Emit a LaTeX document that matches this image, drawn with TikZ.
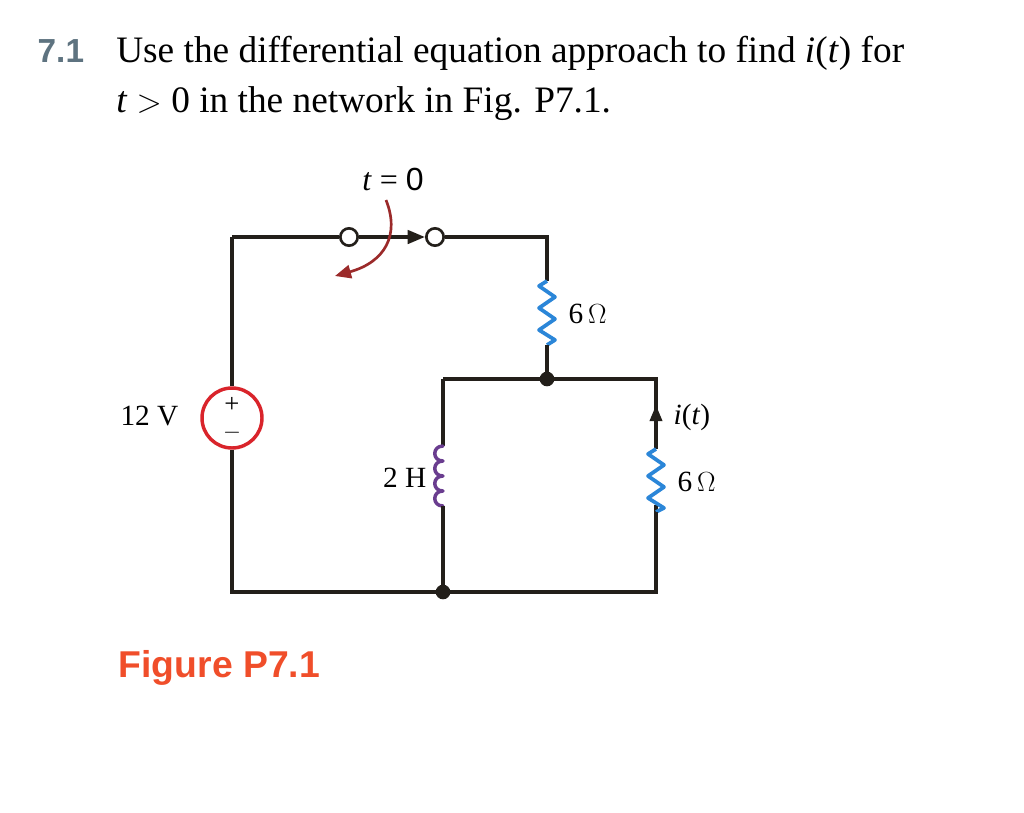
\documentclass[tikz,border=0pt]{standalone}
\usepackage{fontspec}
\setmainfont{Liberation Serif}
\newfontfamily\hsans{Liberation Sans}
\usetikzlibrary{arrows.meta}
\definecolor{wire}{HTML}{231F1A}
\definecolor{resblue}{HTML}{2B86D8}
\definecolor{indpurple}{HTML}{6A3D8F}
\definecolor{srcred}{HTML}{D9242B}
\definecolor{swred}{HTML}{9B2A2A}
\definecolor{numgray}{HTML}{5E7380}
\definecolor{figred}{HTML}{F04E2A}
\begin{document}
\begin{tikzpicture}[x=0.75pt,y=-0.75pt,
  w/.style={draw=wire,line width=2.6pt},
  res/.style={draw=resblue,line width=2.8pt,line join=round},
  ind/.style={draw=indpurple,line width=2.6pt,line join=round,line cap=round},
  dotn/.style={circle,fill=wire,inner sep=0,minimum size=11pt},
  swc/.style={circle,draw=wire,fill=white,line width=2pt,inner sep=0,minimum size=13pt},
  lab/.style={font=\fontsize{22}{26}\selectfont,inner sep=1pt}]
\useasboundingbox (0,0) rectangle (1024,813);
% header
\node[anchor=base west,font=\hsans\bfseries\fontsize{25}{30}\selectfont,text=numgray] (num) at (33,63) {7.1};
\node[anchor=base west,font=\fontsize{28}{32}\selectfont,inner sep=0] (l1) at (116,63) {Use the differential equation approach to find \textit{i}(\textit{t}) for};
\node[anchor=base west,font=\fontsize{28}{32}\selectfont,inner sep=0] (l2) at (116,113) {\textit{t} $>$ 0 in the network in Fig. P7.1.};
\node[anchor=base west,font=\hsans\bfseries\fontsize{28}{32}\selectfont,text=figred] (fig) at (114,677) {Figure P7.1};
% coordinates
\coordinate (tl) at (232,237);
\coordinate (tr) at (547,237);
\coordinate (bl) at (232,592);
\coordinate (br) at (656,592);
\node[dotn] (ntop) at (547,379) {};
\node[dotn] (nbot) at (443,592) {};
\coordinate (ml) at (443,379);
\coordinate (mr) at (656,379);
% source
\node[circle,draw=srcred,line width=2.6pt,minimum size=45pt,inner sep=0] (src) at (232,418) {};
\node[font=\fontsize{20}{22}\selectfont,inner sep=0] (plus) at (232,405) {+};
\node[font=\fontsize{17}{20}\selectfont,inner sep=0] (minus) at (232,433) {$-$};
\node[lab,anchor=east] (vl) at (180,416) {12 V};
% switch
\node[swc] (s1) at (349,237) {};
\node[swc] (s2) at (435,237) {};
\draw[w] (tl) -- (src.north);
\draw[w] (src.south) -- (bl) -- (nbot.center) -- (br) -- (656,505);
\draw[w] (tl) -- (s1);
\draw[w,-{Triangle[length=13pt,width=10pt]}] (s1) -- (s2);
\draw[w] (s2) -- (tr) -- (547,281);
\draw[swred,line width=2pt,-{Triangle[length=12pt,width=10pt]}] (386,200) .. controls (400,235) and (385,262) .. (335,276);
\node[font=\fontsize{24}{28}\selectfont] (tlab) at (393,179) {\textit{t} = {\hsans 0}};
% top resistor
\draw[res] (547,281) -- (539,286) -- (555,297) -- (539,308) -- (555,319) -- (539,330) -- (555,340) -- (547,345);
\draw[w] (547,345) -- (ntop.center);
\node[lab,anchor=west] (r1) at (567,314) {6\,$\Omega$};
\draw[w] (ml) -- (mr) -- (656,449);
\draw[w,-{Triangle[length=12pt,width=9pt]}] (656,440) -- (656,405);
\node[lab,anchor=west] (il) at (672,417) {\textit{i}(\textit{t})};
\draw[res] (656,449) -- (648,454) -- (664,465) -- (648,476) -- (664,487) -- (648,498) -- (664,508) -- (656,512);
\draw[w] (656,512) -- (br);
\node[lab,anchor=west] (r2) at (676,482) {6\,$\Omega$};
% inductor
\draw[w] (ml) -- (443,446);
\draw[ind] (443,446) .. controls (432,446) and (432,461) .. (443,461)
  .. controls (432,461) and (432,476) .. (443,476)
  .. controls (432,476) and (432,491) .. (443,491)
  .. controls (432,491) and (432,506) .. (443,506);
\draw[w] (443,506) -- (nbot.center);
\node[lab,anchor=east] (ll) at (428,478) {2 H};
\end{tikzpicture}
\end{document}
